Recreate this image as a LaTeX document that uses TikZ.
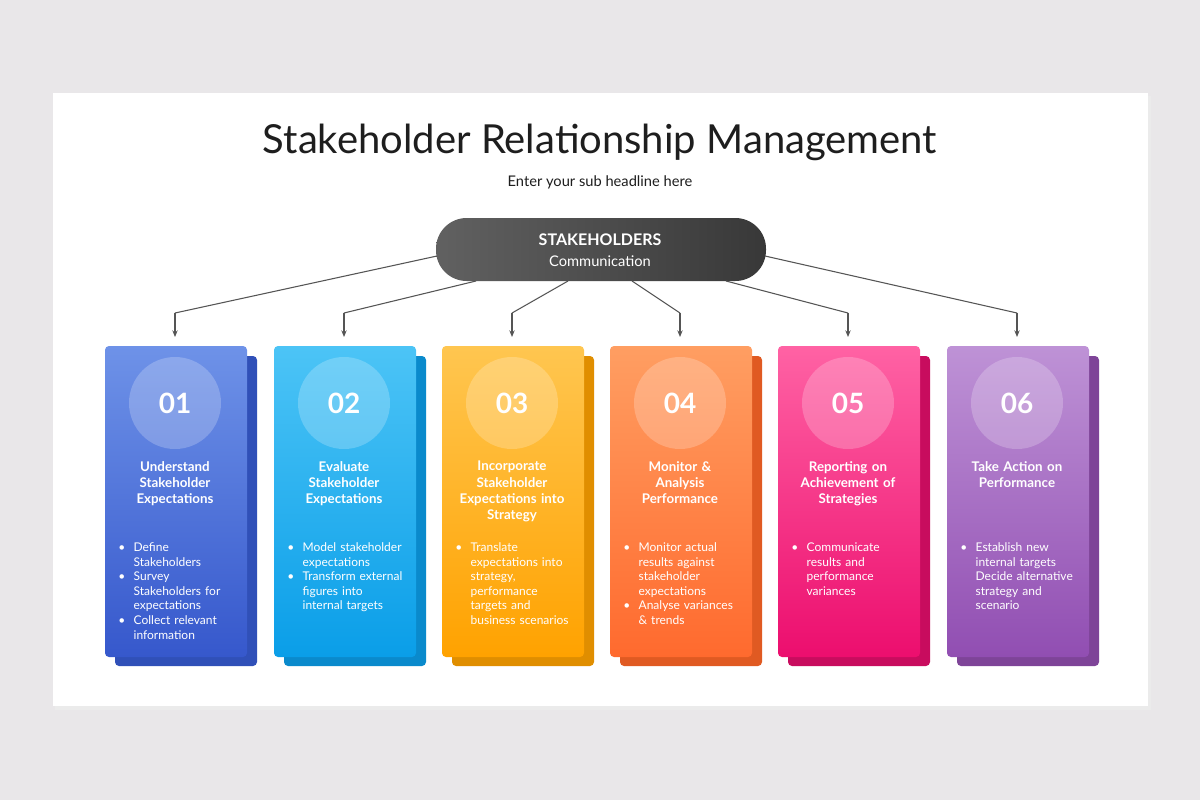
\documentclass[tikz,border=0pt]{standalone}
\usepackage{fontspec}
\setmainfont{Lato}
\usetikzlibrary{arrows.meta, positioning, calc}
\definecolor{pageGray}{HTML}{E9E7E9}
\definecolor{titleInk}{HTML}{1E1E1E}
\definecolor{linkGray}{HTML}{555555}
\definecolor{topA}{HTML}{6E92E8}\definecolor{botA}{HTML}{3658CC}\definecolor{dkA}{HTML}{3050B8}
\definecolor{topB}{HTML}{4CC4F6}\definecolor{botB}{HTML}{0A9EE8}\definecolor{dkB}{HTML}{0A8ACC}
\definecolor{topC}{HTML}{FFC650}\definecolor{botC}{HTML}{FFA200}\definecolor{dkC}{HTML}{E08E00}
\definecolor{topD}{HTML}{FF9E62}\definecolor{botD}{HTML}{FF6A2E}\definecolor{dkD}{HTML}{E05A22}
\definecolor{topE}{HTML}{FF62A4}\definecolor{botE}{HTML}{EC0E6E}\definecolor{dkE}{HTML}{C80C5E}
\definecolor{topF}{HTML}{BE92D6}\definecolor{botF}{HTML}{914EB2}\definecolor{dkF}{HTML}{7E4498}
\newcommand{\cardlist}[1]{\begin{list}{\textbullet}{\leftmargin=1.7em\labelwidth=1em\labelsep=0.7em\itemsep=0pt\topsep=0pt\parsep=0pt\partopsep=0pt}#1\end{list}}
\tikzset{
  cardhead/.style={text=white, font=\bfseries\fontsize{10}{12.2}\selectfont, align=center, text width=88pt, inner sep=0pt, anchor=north},
  cardbody/.style={text=white, font=\fontsize{9}{10.9}\selectfont, text width=92pt, inner sep=0pt, anchor=north west},
  cardnum/.style={circle, minimum size=69pt, fill=white, fill opacity=0.22, text opacity=1, text=white, font=\bfseries\fontsize{21}{21}\selectfont},
  link/.style={linkGray, line width=0.8pt},
  linkdown/.style={link, -{Stealth[length=5pt, width=4pt]}}
}
\begin{document}
\begin{tikzpicture}[x=0.75pt, y=-0.75pt]
    % page and slide
    \fill[pageGray] (0,0) rectangle (1200,800);
    \fill[black!8] (55,96) rectangle (1151,710);
    \fill[white] (53,93) rectangle (1148,706);

    % titles
    \node[text=titleInk, font=\fontsize{30}{36}\selectfont] (title) at (600,142) {Stakeholder Relationship Management};
    \node[text=titleInk, font=\fontsize{11}{13}\selectfont] (subtitle) at (600,182) {Enter your sub headline here};

    % hub
    \shade[left color=black!62, right color=black!78, rounded corners=23pt] (436,218) rectangle (766,281);
    \node[text=white, font=\bfseries\fontsize{12}{14}\selectfont] (hubhead) at (600,240) {STAKEHOLDERS};
    \node[text=white, font=\fontsize{11}{13}\selectfont] (hubsub) at (600,261) {Communication};
    \coordinate (hub1) at (437,256);
    \coordinate (hub2) at (476,281);
    \coordinate (hub3) at (568,281);
    \coordinate (hub4) at (632,281);
    \coordinate (hub5) at (726,281);
    \coordinate (hub6) at (765,256);

    % cards
    \foreach \i/\cx/\tc/\bc/\dc/\num/\head/\items in {
      1/175/topA/botA/dkA/01/{Understand\\Stakeholder\\Expectations}/{\item Define Stakeholders \item Survey Stakeholders for expectations \item Collect relevant information},
      2/344/topB/botB/dkB/02/{Evaluate\\Stakeholder\\Expectations}/{\item Model stakeholder expectations \item Transform external figures into internal targets},
      3/512/topC/botC/dkC/03/{Incorporate\\Stakeholder\\Expectations into\\Strategy}/{\item Translate expectations into strategy, performance targets and business scenarios},
      4/680/topD/botD/dkD/04/{Monitor \&\\Analysis\\Performance}/{\item Monitor actual results against stakeholder expectations \item Analyse variances \& trends},
      5/848/topE/botE/dkE/05/{Reporting on\\Achievement of\\Strategies}/{\item Communicate results and performance variances},
      6/1017/topF/botF/dkF/06/{Take Action on\\Performance}/{\item Establish new internal targets Decide alternative strategy and scenario}} {
      \fill[\dc, rounded corners=3pt] (\cx-60,356) rectangle (\cx+82,666);
      \shade[top color=\tc, bottom color=\bc, rounded corners=3pt] (\cx-70,346) rectangle (\cx+72,657);
      \node[cardnum] (num\i) at (\cx,403) {\num};
      \node[cardhead] (head\i) at (\cx,461) {\head};
      \node[cardbody] (body\i) at (\cx-62,537) {\cardlist{\items}};
      \coordinate (top\i) at (\cx,337);
      \coordinate (bend\i) at (\cx,313);
    }

    % links
    \foreach \i in {1,...,6} {
      \draw[link] (hub\i) -- (bend\i);
      \draw[linkdown] (bend\i) -- (top\i);
    }
\end{tikzpicture}
\end{document}
